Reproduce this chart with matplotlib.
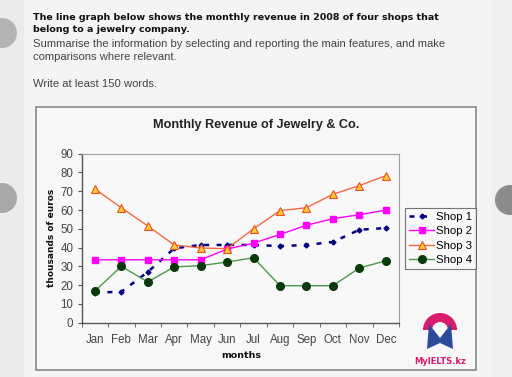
import numpy as np
import matplotlib
matplotlib.use("Agg")
import matplotlib.pyplot as plt
from matplotlib.patches import Rectangle, Circle, Wedge, Polygon

# data (thousands of euros)
months = ['Jan', 'Feb', 'Mar', 'Apr', 'May', 'Jun', 'Jul', 'Aug', 'Sep', 'Oct', 'Nov', 'Dec']
shop1 = [16, 16.5, 27, 39.6, 41.4, 41.4, 41.4, 40.8, 41.4, 43, 49.5, 50.4]
shop2 = [33.5, 33.5, 33.5, 33.5, 33.5, 39.2, 42.4, 47, 51.9, 55.4, 57.5, 60]
shop3 = [71.2, 61.2, 51.5, 41.4, 39.8, 39.4, 50, 59.7, 61.2, 68.4, 73, 78.3]
shop4 = [16.9, 30, 21.7, 29.7, 30.4, 32.3, 34.6, 19.7, 19.7, 19.7, 29.1, 33]
yticks = [0, 10, 20, 30, 40, 50, 60, 70, 80, 90]

W, H = 512, 377
fig = plt.figure(figsize=(W / 100, H / 100), dpi=100)
fig.patch.set_facecolor('#f4f4f4')

# background layer in pixel coordinates (y grows downward)
bg = fig.add_axes([0, 0, 1, 1], zorder=0)
bg.set_xlim(0, W)
bg.set_ylim(H, 0)
bg.axis('off')
bg.add_patch(Rectangle((0, 0), 24, H, color='#ebebeb', lw=0))
bg.add_patch(Rectangle((492, 0), 20, H, color='#efefef', lw=0))
bg.add_patch(Circle((2, 33), 15, color='#b4b4b4', lw=0))
bg.add_patch(Circle((2, 198), 15, color='#a8a8a8', lw=0))
bg.add_patch(Circle((510, 200), 15, color='#8c8c8c', lw=0))
bg.add_patch(Rectangle((36, 107), 440, 263, facecolor='#f7f7f7', edgecolor='#8a8a8a', lw=1.2))

# header text
bold_kw = dict(fontsize=6.8, fontweight='bold', family='DejaVu Sans', va='center', color='#111111')
norm_kw = dict(fontsize=8.1, family='Liberation Sans', va='center', color='#444444')
bg.text(33, 17, 'The line graph below shows the monthly revenue in 2008 of four shops that', **bold_kw)
bg.text(33, 30, 'belong to a jewelry company.', **bold_kw)
bg.text(33, 44, 'Summarise the information by selecting and reporting the main features, and make',
        **norm_kw)
bg.text(33, 57, 'comparisons where relevant.', **norm_kw)
bg.text(33, 84, 'Write at least 150 words.', **norm_kw)

# chart title and axis titles
bg.text(256, 125, 'Monthly Revenue of Jewelry & Co.', fontsize=9.1, fontweight='bold',
        family='Liberation Sans', ha='center', va='center', color='#222222')
bg.text(52, 238, 'thousands of euros', fontsize=6.5, fontweight='bold', family='DejaVu Sans',
        rotation=90, ha='center', va='center', color='#111111')
bg.text(241, 356, 'months', fontsize=6.8, fontweight='bold', family='DejaVu Sans',
        ha='center', va='center', color='#111111')

# logo
bg.add_patch(Wedge((440, 330), 17, 180, 360, width=9, color='#d81b6a', lw=0))
bg.add_patch(Polygon([(427, 349), (429, 324), (440, 338), (451, 324), (453, 349),
                      (440, 343)], closed=True, color='#2c4a9a', lw=0))
bg.text(440, 361, 'MyIELTS.kz', fontsize=6, fontweight='bold', family='DejaVu Sans',
        ha='center', va='center', color='#d81b6a')

# main chart
ax = fig.add_axes([81.7 / W, 1 - 322.7 / H, (399 - 81.7) / W, (322.7 - 153.7) / H], zorder=1)
ax.set_facecolor('#f8f8f8')
x = np.arange(len(months))
l1, = ax.plot(x, shop1, color='#000080', ls=(0, (2, 3)), lw=1.8, marker='D', ms=2.5,
              label='Shop 1')
l2, = ax.plot(x, shop2, color='#ff00ff', lw=1, marker='s', ms=5, label='Shop 2')
l3, = ax.plot(x, shop3, color='#f06a40', lw=1, marker='^', ms=5.5, mfc='#ffcc33',
              mec='#e85020', mew=0.8, label='Shop 3')
l4, = ax.plot(x, shop4, color='#4a9a4a', lw=1, marker='o', ms=5.5, mfc='#0a3a0a',
              mec='#0a3a0a', label='Shop 4')

ax.set_xlim(-0.5, 11.5)
ax.set_ylim(0, 90)
ax.set_yticks(yticks)
ax.set_xticks(x)
ax.set_xticklabels(months)
ax.set_xticks(np.arange(-0.5, 12, 1), minor=True)
ax.tick_params(axis='x', which='major', length=0, pad=8, labelsize=8.3, labelcolor='#444444')
ax.tick_params(axis='x', which='minor', length=3, direction='out', color='#555555')
ax.tick_params(axis='y', length=3, direction='out', labelsize=8.3, labelcolor='#444444',
               color='#555555', pad=3)
for lab in ax.get_xticklabels() + ax.get_yticklabels():
    lab.set_family('Liberation Sans')
for side in ['top', 'right']:
    ax.spines[side].set_color('#a0a0a0')
    ax.spines[side].set_linewidth(0.8)
for side in ['left', 'bottom']:
    ax.spines[side].set_color('#555555')
    ax.spines[side].set_linewidth(1)

leg = fig.legend(handles=[l1, l2, l3, l4], loc='upper left',
                 bbox_to_anchor=(405 / W, 1 - 208 / H), frameon=True, fancybox=False,
                 prop={'family': 'Liberation Sans', 'size': 8.2}, handlelength=2.2,
                 handletextpad=0.2, borderpad=0.35, labelspacing=0.38, borderaxespad=0)
leg.get_frame().set_edgecolor('#555555')
leg.get_frame().set_facecolor('#f8f8f8')
leg.get_frame().set_linewidth(0.8)
leg.set_zorder(3)

fig.savefig('out.png', dpi=100, facecolor=fig.get_facecolor())
